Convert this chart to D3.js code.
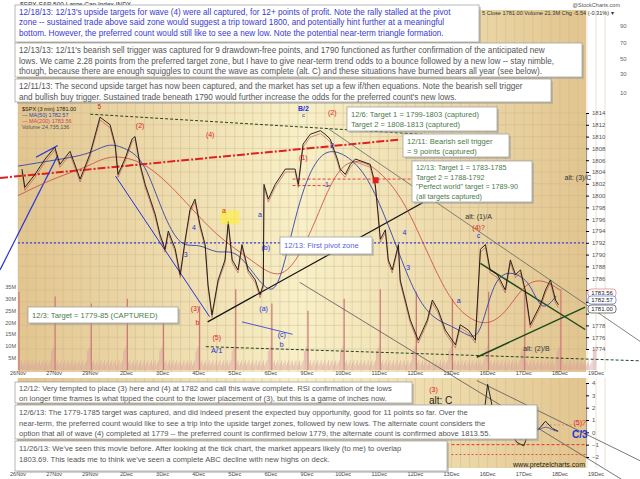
<!DOCTYPE html><html><head><meta charset="utf-8">
<script src="https://d3js.org/d3.v7.min.js"></script>
<style>body{margin:0;background:#fff}svg{font-family:"Liberation Sans",Arial,sans-serif}</style></head><body>
<script>
const dayLabels=["26Nov","27Nov","29Nov","2Dec","3Dec","4Dec","5Dec","6Dec","9Dec","10Dec","11Dec","12Dec","13Dec","16Dec","17Dec","18Dec","19Dec"];
const priceT=[0.11,0.19,0.47,0.75,1.02,1.16,1.44,1.72,1.99,2.27,2.55,2.69,2.77,2.96,3.16,3.24,3.38,3.52,3.66,3.80,3.93,4.07,4.16,4.35,4.49,4.63,4.76,4.90,5.04,5.18,5.26,5.37,5.54,5.73,5.82,5.93,6.09,6.20,6.37,6.57,6.70,6.79,6.81,6.93,7.12,7.40,7.67,7.76,7.89,8.09,8.37,8.50,8.64,8.84,8.92,9.06,9.20,9.34,9.75,9.89,9.97,10.03,10.17,10.25,10.36,10.53,10.58,10.72,10.86,11.08,11.33,11.47,11.63,11.83,12.11,12.24,12.47,12.66,12.80,12.94,13.07,13.27,13.49,13.63,13.77,13.91,14.04,14.18,14.32,14.46,14.60,14.74,14.88,14.96];
const priceV=[1804.5,1801.4,1803.6,1806.2,1808.2,1805.3,1807.5,1802.8,1807,1813.3,1812,1808.7,1803.6,1806.2,1809.6,1810,1805.3,1801.9,1799.4,1796.8,1793.4,1790.9,1794,1791,1786.6,1792.6,1797.6,1799.4,1795,1791.7,1784.9,1779.8,1785.7,1789.1,1795.6,1789.1,1787.4,1791.7,1787.4,1785.7,1783.2,1784.9,1801.9,1799.4,1801.9,1804.5,1804.5,1801.9,1808.7,1810.4,1811,1810.4,1809.6,1806.2,1804.5,1803.6,1805.3,1806.2,1805.3,1801.9,1796.8,1792.6,1794.2,1789.1,1787.4,1791.7,1785.7,1782.3,1778.9,1775.5,1778.9,1782.3,1780.6,1777.2,1774.7,1778.1,1777.2,1775.5,1790.9,1791.7,1787.4,1786.6,1784,1789.1,1786.6,1787.4,1784,1778.1,1779.8,1781.5,1784,1785.7,1782.3,1781.5];
const ma50T=[0,1,2,2.5,3,3.5,4,4.5,5,5.5,6,6.5,7,7.3,7.8,8.3,8.8,9.5,10,10.5,11,11.5,12,12.5,12.8,13.2,13.8,14.2,14.5,14.9];
const ma50V=[1805,1806,1807,1809,1808,1806,1797,1791,1792,1790,1791,1787,1783,1786,1800,1807,1808,1805,1799,1791,1783,1779,1778,1776,1776,1787,1787,1785,1780,1783];
const ma200T=[0,1,2,2.5,3.5,4.5,5.5,6.5,7.3,8,8.5,9,9.7,10.5,11,11.5,12,12.5,13,13.5,14,14.5,15];
const ma200V=[1800,1803,1805,1807,1806,1800,1793,1789,1785,1792,1800,1806,1806,1801,1795,1788,1782,1779,1778,1780,1785,1786,1784];
const volDays=[0,1,2,3,4,5,6,7,8,9,10,11,12,13,14,15];
const volOpen=[33,31,28,30,22,27,34,28,25,30,34,33,30,33,33,34];
const priceTicks=d3.range(1774,1815,2);
const oscT=[12.8,12.9,13.0,13.1,13.2,13.4,13.6,13.8,14.0,14.2,14.4,14.6,14.8,14.95];
const oscV=[-0.5,1.5,3.9,2.5,0.8,-0.2,0.4,-0.8,-1.1,0.5,0.2,0.9,0.3,0.1];

const W=640,H=479;
const svg=d3.select("body").append("svg").attr("width",W).attr("height",H);
const defs=svg.append("defs");
const g=defs.append("linearGradient").attr("id","bg");
g.append("stop").attr("offset","0").attr("stop-color","#e2c58f");
g.append("stop").attr("offset","0.5").attr("stop-color","#f8f0c8");
g.append("stop").attr("offset","1").attr("stop-color","#e2c58f");
svg.append("rect").attr("width",W).attr("height",H).attr("fill","#fff");
svg.append("rect").attr("x",18).attr("y",10).attr("width",568).attr("height",362).attr("fill","url(#bg)");
svg.append("rect").attr("x",18).attr("y",378).attr("width",568).attr("height",90).attr("fill","url(#bg)");

const x=d3.scaleLinear().domain([0,16]).range([18,596]);
const y=d3.scaleLinear().domain([1774,1814]).range([349,113]);
const yv=d3.scaleLinear().domain([0,35]).range([370,287]);
const yo=d3.scaleLinear().domain([-2,4]).range([457,383]);

const grid=svg.append("g").attr("stroke","#c9b48a").attr("stroke-width",0.4);
for(let t=0;t<16.3;t+=0.25) grid.append("line").attr("x1",x(t)).attr("x2",x(t)).attr("y1",10).attr("y2",372);
for(let t=0;t<16.3;t+=0.25) grid.append("line").attr("x1",x(t)).attr("x2",x(t)).attr("y1",378).attr("y2",468);
priceTicks.forEach(p=>grid.append("line").attr("x1",18).attr("x2",586).attr("y1",y(p)).attr("y2",y(p)));
const ax=svg.append("g").attr("transform","translate(586,0)").call(d3.axisRight(y).tickValues(priceTicks).tickFormat(d=>[1780,1782,1784].includes(d)?"":d3.format("d")(d)).tickSize(3));
ax.selectAll("text").attr("font-size",6).attr("fill","#555");ax.select(".domain").attr("stroke","#999");
[90,70,50,30,10].forEach((v,i)=>svg.append("text").attr("x",620).attr("y",[28,45,61,76,95][i]).attr("font-size",6).attr("fill","#666").text(v));
const ao=svg.append("g").attr("transform","translate(586,0)").call(d3.axisRight(yo).tickValues([-2,-1,0,1,2,3,4]).tickFormat(d3.format("d")).tickSize(3));
ao.selectAll("text").attr("font-size",6).attr("fill","#555");ao.select(".domain").attr("stroke","#999");
[[35,"35M"],[30,"30M"],[25,"25M"],[20,"20M"],[15,"15M"],[10,"10M"],[5,"5M"]].forEach(d=>svg.append("text").attr("x",16).attr("y",yv(d[0])+2).attr("text-anchor","end").attr("font-size",5.5).attr("fill","#555").text(d[1]));
dayLabels.forEach((d,i)=>{[375,476].forEach(yy=>svg.append("text").attr("x",x(i)).attr("y",yy).attr("font-size",5.5).attr("fill","#444").attr("text-anchor","middle").text(d));});

volDays.forEach((d,i)=>{
  svg.append("line").attr("x1",x(d)+1).attr("x2",x(d)+1).attr("y1",yv(0)).attr("y2",yv(volOpen[i])).attr("stroke","#c77").attr("stroke-width",1.2);
  for(let k=1;k<30;k++){svg.append("line").attr("x1",x(d+k/30)+1).attr("x2",x(d+k/30)+1).attr("y1",yv(0)).attr("y2",yv(2+(k%3)+(k>26?6:0))).attr("stroke","#d9a0a0").attr("stroke-width",0.6);}
});

function ln(x1,y1,x2,y2,c,w,da){svg.append("line").attr("x1",x1).attr("y1",y1).attr("x2",x2).attr("y2",y2).attr("stroke",c).attr("stroke-width",w).attr("stroke-dasharray",da||null);}
ln(0,y(1803),x(10.58),y(1809.5),"#e02020",2,"8,2,2,2");
ln(x(7.6),y(1802.8),x(11.1),y(1802.8),"#e04040",1,"3,2");
ln(x(7.6),y(1801.7),x(8.7),y(1801.7),"#e04040",1,"3,2");
ln(18,y(1792),586,y(1792),"#3344dd",1.2,"2,2");
ln(x(2),y(1813.8),x(13.6),y(1809.5),"#224422",1,"3,2");
ln(x(5.2),y(1774.4),640,y(1772),"#224422",1,"3,2");
ln(x(5.25),y(1778.6),x(11.2),y(1798.8),"#111",1.2);
ln(x(8.6),y(1811.3),640,y(1775.3),"#666",0.8);
ln(x(7.8),y(1785.3),640,y(1750),"#555",0.8);
ln(x(12.8),y(1788.5),x(15.7),y(1777.3),"#1a4a1a",1.4);
ln(x(12.7),y(1772.6),x(15.7),y(1781.1),"#1a4a1a",1.4);
ln(0,y(1787.4),x(1.1),y(1806.8),"#2233dd",1.2);
ln(x(0.5),y(1806.5),x(1.1),y(1808.5),"#2233dd",1.2);
ln(x(2.7),y(1803.3),x(5.3),y(1779.5),"#2233dd",1);
ln(x(7.6),y(1776.5),x(6.2),y(1778.6),"#2233dd",0.8);
ln(x(12),yo(-1),586,yo(-1),"#e03030",1,"3,2");
ln(x(12),yo(-1.8),586,yo(-1.8),"#e03030",0.8,"2,2");
ln(x(14.5),yo(0.6),586,yo(0.6),"#e08080",0.8,"2,2");
ln(x(12.7),yo(4.2),640,yo(-2.3),"#555",0.8);

const line=d3.line().x(d=>x(d[0])).y(d=>y(d[1]));
const curve=d3.line().curve(d3.curveBasis).x(d=>x(d[0])).y(d=>y(d[1]));
svg.append("path").attr("fill","none").attr("stroke","#cc4444").attr("stroke-width",0.8).attr("d",curve(ma200T.map((t,i)=>[t,ma200V[i]])));
svg.append("path").attr("fill","none").attr("stroke","#3344aa").attr("stroke-width",0.9).attr("d",curve(ma50T.map((t,i)=>[t,ma50V[i]])));
svg.append("path").attr("fill","none").attr("stroke","#b03030").attr("stroke-width",0.5).attr("d",line(priceT.map((t,i)=>[t,priceV[i]-0.5])));
svg.append("path").attr("fill","none").attr("stroke","#111").attr("stroke-width",0.9).attr("d",line(priceT.map((t,i)=>[t,priceV[i]])));
svg.append("path").attr("fill","none").attr("stroke","#222").attr("stroke-width",1).attr("d",d3.line().x(d=>x(d[0])).y(d=>yo(d[1]))(oscT.map((t,i)=>[t,oscV[i]])));
svg.append("path").attr("fill","none").attr("stroke","#3344cc").attr("stroke-width",0.8).attr("d",d3.line().curve(d3.curveBasis).x(d=>x(d[0])).y(d=>yo(d[1]))(oscT.map((t,i)=>[t,oscV[i]*0.6])));
svg.append("rect").attr("x",x(5.6)).attr("y",y(1797.5)).attr("width",19).attr("height",14).attr("fill","#ffee33").attr("opacity",0.6);
svg.append("rect").attr("x",x(9.9)-3).attr("y",y(1802.6)-3).attr("width",6).attr("height",6).attr("fill","#e02020");

function lb(t,p,s,c,sz,bold){svg.append("text").attr("x",x(t)).attr("y",y(p)).attr("text-anchor","middle").attr("font-size",sz||7).attr("font-weight",bold?"bold":null).attr("fill",c).text(s);}
const R="#dd2222",B="#2233dd",K="#333";
lb(2.25,1814.6,"5",R,6.5);lb(3.38,1811.5,"(2)",R,7);lb(5.32,1810,"(4)",R,7);lb(4.9,1780.5,"(3)",R,7);lb(4.97,1778,"b",R,7);lb(5.5,1775.5,"(5)",R,7);lb(5.5,1773.3,"A/1",B,7.5);
lb(4.64,1789.6,"3",B,7);lb(4.87,1794.2,"4",B,7);lb(5.7,1797,"a",R,7);lb(6.7,1796.3,"a",B,7);lb(6.86,1790.8,"(b)",B,7);lb(6.8,1780.4,"(a)",B,7);lb(7.3,1776,"(c)",B,7);lb(7.3,1774.4,"b",B,7);
lb(7.9,1814.4,"B/2",B,7,1);lb(7.9,1813.3,"c",B,6);lb(8.7,1813.6,"(2)",R,7);lb(7.9,1806,"(1)",R,7);lb(8.7,1808,"2",B,7);lb(8.55,1801.5,"1",B,7);lb(10.7,1793.4,"4",B,7);lb(10.8,1787.4,"3",B,7);
lb(12.2,1781.8,"a",B,7);lb(12.75,1794.2,"(4)?",R,7);lb(12.75,1792.8,"c",B,7);lb(12.75,1796,"alt: (1)/A",K,7);lb(14.35,1773.7,"alt: (2)/B",K,7);lb(15.5,1802.7,"alt: (3)/C",K,7);
svg.append("text").attr("x",x(11.5)).attr("y",392).attr("font-size",7).attr("fill",R).attr("text-anchor","middle").text("(3)");
svg.append("text").attr("x",x(11.7)).attr("y",404).attr("font-size",10).attr("fill","#222").attr("text-anchor","middle").text("alt: C");
svg.append("text").attr("x",x(15.55)).attr("y",425).attr("font-size",7).attr("fill",R).attr("text-anchor","middle").text("(5)?");
svg.append("text").attr("x",x(15.55)).attr("y",438).attr("font-size",10).attr("font-weight","bold").attr("fill",B).attr("text-anchor","middle").text("C/3");
svg.append("text").attr("x",585).attr("y",467).attr("font-size",7).attr("fill","#222").attr("text-anchor","end").text("www.pretzelcharts.com");

[["1783.56","#e06060",293],["1782.57","#4455cc",300],["1781.00","#222",309]].forEach(d=>{svg.append("rect").attr("x",588).attr("y",d[2]-4).attr("width",28).attr("height",8).attr("rx",3).attr("fill","#fff").attr("stroke",d[1]).attr("stroke-width",0.6);svg.append("text").attr("x",602).attr("y",d[2]+2).attr("font-size",6).attr("text-anchor","middle").attr("fill","#222").text(d[0]);});

svg.append("text").attr("x",20).attr("y",7).attr("font-size",6.5).attr("fill","#333").text("$SPX S&P 500 Large Cap Index INDX");
svg.append("text").attr("x",620).attr("y",7).attr("font-size",5.5).attr("fill","#555").attr("text-anchor","end").text("@StockCharts.com");
svg.append("text").attr("x",482).attr("y",15).attr("font-size",5.6).attr("fill","#333").text("5 Close 1781.00 Volume 21.3M Chg -5.54 (-0.31%) ▾");
const leg=["$SPX (3 min) 1781.00","— MA(50) 1782.57","— MA(200) 1783.56","Volume 24,735,136"];
leg.forEach((s,i)=>svg.append("text").attr("x",22).attr("y",111+i*6).attr("font-size",5.5).attr("fill",["#222","#3344aa","#cc4444","#555"][i]).text(s));

function box(x0,y0,w,h,lines,col,fs,lh){
  svg.append("rect").attr("x",x0+2).attr("y",y0+2).attr("width",w).attr("height",h).attr("fill","#999").attr("opacity",0.45);
  svg.append("rect").attr("x",x0).attr("y",y0).attr("width",w).attr("height",h).attr("fill","#fff").attr("stroke","#999").attr("stroke-width",0.7);
  lines.forEach((s,i)=>svg.append("text").attr("x",x0+4).attr("y",y0+lh*(i+1)-1).attr("font-size",fs).attr("fill",col).text(s));
}
box(15,5,464,37,["12/18/13:  12/13's upside targets for wave (4) were all captured, for 12+ points of profit.  Note the rally stalled at the pivot","zone -- sustained trade above said zone would suggest a trip toward 1800, and potentially hint further at a meaningful","bottom.  However, the preferred count would still like to see a new low.  Note the potential near-term triangle formation."],"#3a3ad0",8.2,10.6);
box(15,43,567,34,["12/13/13:   12/11's bearish sell trigger was captured for 9 drawdown-free points, and 1790 functioned as further confirmation of the anticipated new","lows.  We came 2.28 points from the preferred target zone, but I have to give near-term trend odds to a bounce followed by a new low -- stay nimble,","though, because there are enough squiggles to count the wave as complete (alt. C) and these situations have burned bears all year (see below)."],"#555",8.2,10.8);
box(15,79,536,23,["12/11/13:   The second upside target has now been captured, and the market has set up a few if/then equations.  Note the bearish sell trigger","and bullish buy trigger.   Sustained trade beneath 1790 would further increase the odds for the preferred count's new lows."],"#555",8.2,10.8);
box(347,107,150,24,["12/6: Target 1 = 1799-1803 (captured)","Target 2 = 1808-1813 (captured)"],"#4a7a4a",7.6,10.5);
box(403,134,106,23,["12/11: Bearish sell trigger","= 9 points (captured)"],"#4a7a4a",7.6,10.5);
box(412,161,120,41,["12/13: Target 1 = 1783-1785","Target 2 = 1788-1792","\"Perfect world\" target = 1789-90","(all targets captured)"],"#4a7a4a",7.2,9.8);
box(280,237,92,17,["12/13:  First pivot zone"],"#5566dd",7.6,12);
box(28,307,150,16,["12/3: Target = 1779-85 (CAPTURED)"],"#4a7a4a",7.6,11.5);
box(15,382,397,21,["12/12: Very tempted to place (3) here and (4) at 1782 and call this wave complete.  RSI confirmation of the lows","on longer time frames is what tipped the count to the lower placement of (3), but this is a game of inches now."],"#555",7.6,10.2);
box(15,405,522,34,["12/6/13:  The 1779-1785 target was captured, and did indeed present the expected buy opportunity, good for 11 points so far.  Over the","near-term, the preferred count would like to see a trip into the upside target zones, followed by new lows.  The alternate count considers the","option that all of wave (4) completed at 1779 -- the preferred count is confirmed below 1779, the alternate count is confirmed above 1813.55."],"#555",7.6,10.8);
box(15,441,432,30,["11/26/13:  We've seen this movie before.  After looking at the tick chart, the market appears likely (to me) to overlap","1803.69.  This leads me to think we've seen a complete ABC decline with new highs on deck."],"#555",7.6,11);
</script></body></html>
